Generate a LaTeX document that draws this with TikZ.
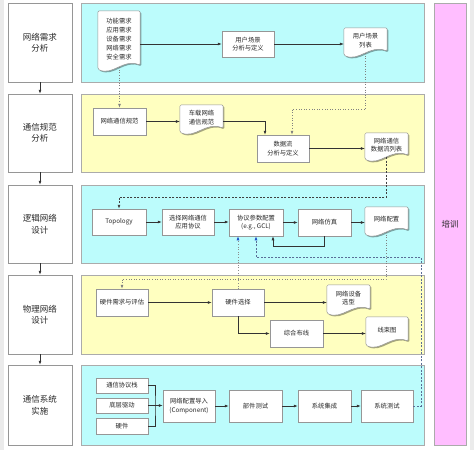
\documentclass[tikz,border=0pt]{standalone}
\usepackage{fontspec}
\setmainfont{Noto Sans CJK SC}
\usetikzlibrary{arrows.meta,calc,shadows}
\pgfdeclarelayer{bg}\pgfdeclarelayer{mid}\pgfsetlayers{bg,mid,main}
\definecolor{cyanp}{RGB}{188,252,252}
\definecolor{yellowp}{RGB}{255,255,192}
\definecolor{pinkp}{RGB}{255,190,255}
\definecolor{edge}{RGB}{150,150,150}
\definecolor{txt}{RGB}{40,40,40}
\definecolor{bluetip}{RGB}{30,80,200}
\definecolor{bluedash}{RGB}{90,110,150}
\newcommand\docoutline[1]{%
  \path[docline] (#1.north west) -- (#1.north east) -- ($(#1.south east)+(0,-2)$)
    .. controls ($(#1.south west)!0.6!(#1.south east)+(0,-9)$) and ($(#1.south west)!0.35!(#1.south east)+(0,9)$) ..
    ($(#1.south west)+(0,2)$) -- cycle;}
\tikzset{
  shad/.style={drop shadow={shadow xshift=1.2pt,shadow yshift=-1.2pt,opacity=0.35,fill=black}},
  procbox/.style={draw=edge, fill=white, line width=0.5pt, shad, inner sep=1pt, align=center,
    font=\fontsize{6.3}{8.5}\selectfont, text=txt},
  docbox/.style={inner sep=1pt, align=center, font=\fontsize{6.3}{8.5}\selectfont, text=txt},
  docline/.style={draw=edge, fill=white, line width=0.5pt, rounded corners=1.5pt, shad},
  phasebox/.style={draw=edge, fill=white, line width=0.5pt, shad, align=center, minimum width=64pt,
    font=\fontsize{8.5}{11.5}\selectfont, text=txt},
  panel/.style={draw=edge!80, line width=0.5pt, shad},
  tip/.style={-{Latex[length=4pt,width=3pt]}},
  conn/.style={draw=black!80, line width=0.6pt, tip},
  dotconn/.style={draw=black!50, line width=0.6pt, dotted, tip},
  dashconn/.style={draw=black!75, line width=0.6pt, dash pattern=on 2pt off 1.5pt, tip},
  bluedot/.style={draw=black!45, line width=0.6pt, dotted, -{Latex[length=4pt,width=3pt,color=bluetip]}},
  bluedashc/.style={draw=bluedash, line width=0.6pt, dash pattern=on 2pt off 1.5pt, -{Latex[length=4pt,width=3pt,color=bluetip]}},
}
\begin{document}
\begin{tikzpicture}[x=1pt,y=-1pt]
\useasboundingbox (0,0) rectangle (474,450);

% background and panels
\begin{pgfonlayer}{bg}
  \fill[white] (0,0) rectangle (474,450);
  \fill[black!8] (0,0) rectangle (4,450);
  \fill[black!8] (470,0) rectangle (474,450);
  \path[panel, fill=cyanp]   (81,3)   rectangle (424,82);
  \path[panel, fill=yellowp] (81,94)  rectangle (424,172);
  \path[panel, fill=cyanp]   (81,185) rectangle (424,263);
  \path[panel, fill=yellowp] (81,275) rectangle (424,354);
  \path[panel, fill=cyanp]   (81,365) rectangle (424,445);
  \path[panel, fill=pinkp]   (434,3)  rectangle (466,445);
\end{pgfonlayer}
\node[font=\fontsize{8.5}{11}\selectfont, text=txt] (pk) at (450,224) {培训};

% phase column
\node[phasebox, minimum height=79pt] (lab1) at (40,42.5) {网络需求\\分析};
\node[phasebox, minimum height=78pt] (lab2) at (40,133) {通信规范\\分析};
\node[phasebox, minimum height=78pt] (lab3) at (40,224) {逻辑网络\\设计};
\node[phasebox, minimum height=79pt] (lab4) at (40,314.5) {物理网络\\设计};
\node[phasebox, minimum height=80pt] (lab5) at (40,405) {通信系统\\实施};
\foreach \a/\b in {lab1/lab2,lab2/lab3,lab3/lab4,lab4/lab5}
  \draw[conn] (\a.south) -- (\b.north);

% row 1
\node[docbox, minimum width=42pt, minimum height=56pt, font=\fontsize{6.3}{9}\selectfont] (d1) at (119,39)
  {功能需求\\应用需求\\设备需求\\网络需求\\安全需求};
\node[procbox, minimum width=52pt, minimum height=26pt] (r1) at (248,44) {用户场景\\分析与定义};
\node[docbox, minimum width=43pt, minimum height=25pt] (d2) at (365.5,40.5) {用户场景\\列表};

% row 2
\node[procbox, minimum width=53pt, minimum height=27pt] (r2) at (119.5,121.5) {网络通信规范};
\node[docbox, minimum width=43pt, minimum height=25pt] (d3) at (201.5,117.5) {车载网络\\通信规范};
\node[procbox, minimum width=52pt, minimum height=27pt] (r3) at (283,148.5) {数据流\\分析与定义};
\node[docbox, minimum width=43pt, minimum height=24pt] (d4) at (386.5,145) {网络通信\\数据流列表};

% row 3
\node[procbox, minimum width=54pt, minimum height=26pt] (r4) at (119,222) {Topology};
\node[procbox, minimum width=52pt, minimum height=26pt] (r5) at (188,222) {选择网络通信\\应用协议};
\node[procbox, minimum width=54pt, minimum height=27pt] (r6) at (256,222.5) {协议参数配置\\(e.g., GCL)};
\node[procbox, minimum width=53pt, minimum height=27pt] (r7) at (324.5,222.5) {网络仿真};
\node[docbox, minimum width=43pt, minimum height=25pt] (d5) at (386.5,219.5) {网络配置};

% row 4
\node[procbox, minimum width=52pt, minimum height=27pt] (r8) at (122,302.5) {硬件需求与评估};
\node[procbox, minimum width=52pt, minimum height=27pt] (r9) at (238,302.5) {硬件选择};
\node[docbox, minimum width=43pt, minimum height=26pt] (d6) at (348.5,298) {网络设备\\选型};
\node[procbox, minimum width=53pt, minimum height=27pt] (r10) at (296.5,333.5) {综合布线};
\node[docbox, minimum width=42pt, minimum height=26pt] (d7) at (387,330) {线束图};

% row 5
\node[procbox, minimum width=52pt, minimum height=15pt] (r11) at (122,385.5) {通信协议栈};
\node[procbox, minimum width=52pt, minimum height=15pt] (r12) at (122,405.5) {底层驱动};
\node[procbox, minimum width=52pt, minimum height=16pt] (r13) at (122,426) {硬件};
\node[procbox, minimum width=52pt, minimum height=32pt] (r14) at (189,406) {网络配置导入\\(Component)};
\node[procbox, minimum width=53pt, minimum height=32pt] (r15) at (255.5,406) {部件测试};
\node[procbox, minimum width=53pt, minimum height=32pt] (r16) at (324.5,406) {系统集成};
\node[procbox, minimum width=52pt, minimum height=32pt] (r17) at (387,406) {系统测试};

% document outlines
\begin{pgfonlayer}{mid}
  \foreach \d in {d1,d2,d3,d4,d5,d6,d7} {\docoutline{\d}}
\end{pgfonlayer}

% helper coordinates
\coordinate (c1) at (292,109);
\coordinate (c2) at (0,197);
\coordinate (c3) at (421,257);
\coordinate (c4) at (0,279);
\coordinate (c5) at (0,246);
\coordinate (j1) at (155,405.5);

% row 1 connectors
\draw[conn] (r1.west -| d1.east) -- (r1.west);
\draw[conn] (r1.east) -- (d2.west |- r1.east);
\draw[dotconn] (r2.north |- d1.south) -- (r2.north);
\draw[dotconn] (d2.south) |- (c1) -- (c1 |- r3.north);

% row 2 connectors
\draw[conn] (r2.east) -- (d3.west |- r2.east);
\draw[conn] (d3.east |- r2.east) -| ([xshift=-18pt]r3.north);
\draw[conn] (r3.east) -- (d4.west |- r3.east);
\draw[dashconn] (d4.south) |- (r4.north |- c2) -- (r4.north);

% row 3 connectors
\draw[conn] (r4.east) -- (r5.west);
\draw[conn] (r5.east) -- (r6.west |- r5.east);
\draw[conn] (r6.east) -- (r7.west);
\draw[conn] (r7.east) -- (d5.west |- r7.east);
\draw[conn] (r7.south) |- ([xshift=17pt]r6.south |- c5) -- ([xshift=17pt]r6.south);
\draw[bluedot] (r9.north) -- (r9.north |- r6.south);
\draw[bluedashc] (r17.east) -| (c3) -| (r6.south);
\draw[dotconn] (d5.south) |- (r8.north |- c4) -- (r8.north);

% row 4 connectors
\draw[conn] (r8.east) -- (r9.west);
\draw[conn] (r9.east) -- (d6.west |- r9.east);
\draw[conn] (r9.south) |- (r10.west);
\draw[conn] (r10.east) -- (d7.west |- r10.east);

% row 5 connectors
\draw[black!80, line width=0.6pt] (r11.east) -| (j1) |- (r13.east);
\draw[conn] (r12.east) -- (r14.west |- r12.east);
\draw[conn] (r14.east) -- (r15.west);
\draw[conn] (r15.east) -- (r16.west);
\draw[conn] (r16.east) -- (r17.west);
\end{tikzpicture}
\end{document}
